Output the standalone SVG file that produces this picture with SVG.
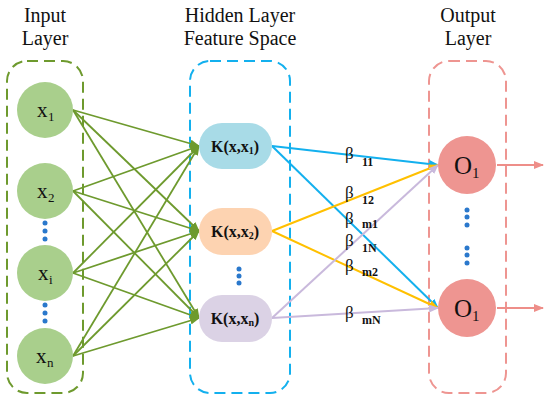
<svg xmlns="http://www.w3.org/2000/svg" width="550" height="402" viewBox="0 0 550 402">
<defs>
<style>
.t{font-family:"Liberation Serif","Times New Roman",serif;fill:#111}
.title{font-size:20px;text-anchor:middle}
.box{fill:none;stroke-width:2;stroke-dasharray:11 6}
.in{fill:#a9cf8c}
.out{fill:#ee9591}
.g{stroke:#6e9a2e;stroke-width:1.8;fill:none;marker-end:url(#ag)}
.b{stroke:#13b0ee;stroke-width:2;fill:none;marker-end:url(#ab)}
.o{stroke:#ffc000;stroke-width:2;fill:none;marker-end:url(#ao)}
.l{stroke:#c9b9dc;stroke-width:2;fill:none;marker-end:url(#al)}
.r{stroke:#ee8e89;stroke-width:1.8;fill:none;marker-end:url(#ar)}
.dot{fill:#2a78cc}
.kt{font-size:16px;font-weight:bold;text-anchor:middle}
.beta{font-size:17px}
.sb{font-size:12px;font-weight:bold}
</style>
<marker id="ag" markerWidth="10" markerHeight="8" refX="9" refY="4" orient="auto" markerUnits="userSpaceOnUse"><path d="M0,0 L10,4 L0,8 Z" fill="#6e9a2e"/></marker>
<marker id="ab" markerWidth="10" markerHeight="8" refX="9" refY="4" orient="auto" markerUnits="userSpaceOnUse"><path d="M0,0 L10,4 L0,8 Z" fill="#13b0ee"/></marker>
<marker id="ao" markerWidth="10" markerHeight="8" refX="9" refY="4" orient="auto" markerUnits="userSpaceOnUse"><path d="M0,0 L10,4 L0,8 Z" fill="#ffc000"/></marker>
<marker id="al" markerWidth="10" markerHeight="8" refX="9" refY="4" orient="auto" markerUnits="userSpaceOnUse"><path d="M0,0 L10,4 L0,8 Z" fill="#c9b9dc"/></marker>
<marker id="ar" markerWidth="10" markerHeight="8" refX="9" refY="4" orient="auto" markerUnits="userSpaceOnUse"><path d="M0,0 L10,4 L0,8 Z" fill="#ee8e89"/></marker>
</defs>
<rect width="550" height="402" fill="#ffffff"/>

<g id="titles">
<text class="t title" x="45" y="22">Input</text>
<text class="t title" x="45" y="45">Layer</text>
<text class="t title" x="240" y="22">Hidden Layer</text>
<text class="t title" x="240" y="45">Feature Space</text>
<text class="t title" x="468" y="22">Output</text>
<text class="t title" x="468" y="45">Layer</text>
</g>

<g id="boxes">
<rect class="box" x="7" y="61" width="76" height="332" rx="20" stroke="#6e9a2e"/>
<rect class="box" x="190" y="61" width="100" height="332" rx="20" stroke="#13b0ee"/>
<rect class="box" x="429" y="61" width="77" height="332" rx="20" stroke="#ee9591"/>
</g>

<g id="connectors">
<line class="g" x1="73" y1="110" x2="199" y2="146"/>
<line class="g" x1="73" y1="110" x2="199" y2="231"/>
<line class="g" x1="73" y1="110" x2="199" y2="318"/>
<line class="g" x1="73" y1="191" x2="199" y2="146"/>
<line class="g" x1="73" y1="191" x2="199" y2="231"/>
<line class="g" x1="73" y1="191" x2="199" y2="318"/>
<line class="g" x1="73" y1="273" x2="199" y2="146"/>
<line class="g" x1="73" y1="273" x2="199" y2="231"/>
<line class="g" x1="73" y1="273" x2="199" y2="318"/>
<line class="g" x1="73" y1="356" x2="199" y2="146"/>
<line class="g" x1="73" y1="356" x2="199" y2="231"/>
<line class="g" x1="73" y1="356" x2="199" y2="318"/>
<line class="b" x1="272" y1="146" x2="438" y2="165"/>
<line class="b" x1="272" y1="146" x2="438" y2="308"/>
<line class="o" x1="272" y1="231" x2="438" y2="165"/>
<line class="o" x1="272" y1="231" x2="438" y2="308"/>
<line class="l" x1="272" y1="318" x2="438" y2="165"/>
<line class="l" x1="272" y1="318" x2="438" y2="308"/>
<line class="r" x1="497" y1="165" x2="543" y2="165"/>
<line class="r" x1="497" y1="308" x2="543" y2="308"/>
</g>

<g id="input-x1"><circle class="in" cx="45" cy="110" r="28"/><text class="t" x="37" y="117" font-size="21">x</text><text class="t" x="48" y="121" font-size="13">1</text></g>
<g id="input-x2"><circle class="in" cx="45" cy="191" r="28"/><text class="t" x="37" y="198" font-size="21">x</text><text class="t" x="48" y="202" font-size="13">2</text></g>
<g id="input-xi"><circle class="in" cx="45" cy="273" r="28"/><text class="t" x="38" y="280" font-size="21">x</text><text class="t" x="49" y="284" font-size="13">i</text></g>
<g id="input-xn"><circle class="in" cx="45" cy="356" r="28"/><text class="t" x="36" y="363" font-size="21">x</text><text class="t" x="47" y="367" font-size="13">n</text></g>
<g id="input-dots">
<circle class="dot" cx="45" cy="223" r="2.5"/><circle class="dot" cx="45" cy="231" r="2.5"/><circle class="dot" cx="45" cy="239" r="2.5"/>
<circle class="dot" cx="45" cy="305" r="2.5"/><circle class="dot" cx="45" cy="313" r="2.5"/><circle class="dot" cx="45" cy="321" r="2.5"/>
</g>

<g id="hidden-k1"><rect x="199" y="123" width="73" height="46" rx="23" fill="#a8dbe7"/><text class="t kt" x="235" y="152">K(x,x<tspan font-size="10" dy="2">1</tspan><tspan dy="-2">)</tspan></text></g>
<g id="hidden-k2"><rect x="199" y="208" width="73" height="47" rx="23" fill="#fdd3b1"/><text class="t kt" x="235" y="237">K(x,x<tspan font-size="10" dy="2">2</tspan><tspan dy="-2">)</tspan></text></g>
<g id="hidden-kn"><rect x="199" y="295" width="73" height="47" rx="23" fill="#dbd2e5"/><text class="t kt" x="235" y="324">K(x,x<tspan font-size="10" dy="2">n</tspan><tspan dy="-2">)</tspan></text></g>
<g id="hidden-dots"><circle class="dot" cx="239" cy="269" r="2.5"/><circle class="dot" cx="239" cy="276" r="2.5"/><circle class="dot" cx="239" cy="283" r="2.5"/></g>

<g id="output-o1a"><circle class="out" cx="467" cy="165" r="29"/><text class="t" x="454" y="174" font-size="25">O</text><text class="t" x="472" y="178" font-size="15">1</text></g>
<g id="output-o1b"><circle class="out" cx="467" cy="308" r="29"/><text class="t" x="454" y="317" font-size="25">O</text><text class="t" x="472" y="321" font-size="15">1</text></g>
<g id="output-dots">
<circle class="dot" cx="467" cy="210" r="2.5"/><circle class="dot" cx="467" cy="217" r="2.5"/><circle class="dot" cx="467" cy="225" r="2.5"/>
<circle class="dot" cx="467" cy="248" r="2.5"/><circle class="dot" cx="467" cy="255" r="2.5"/><circle class="dot" cx="467" cy="263" r="2.5"/>
</g>

<g id="weights">
<text class="t beta" x="345" y="159">β</text><text class="t sb" x="362" y="166">11</text>
<text class="t beta" x="345" y="198">β</text><text class="t sb" x="362" y="204">12</text>
<text class="t beta" x="345" y="224">β</text><text class="t sb" x="362" y="228">m1</text>
<text class="t beta" x="345" y="246">β</text><text class="t sb" x="362" y="252">1N</text>
<text class="t beta" x="345" y="271">β</text><text class="t sb" x="362" y="276">m2</text>
<text class="t beta" x="345" y="318">β</text><text class="t sb" x="362" y="324">mN</text>
</g>
</svg>
